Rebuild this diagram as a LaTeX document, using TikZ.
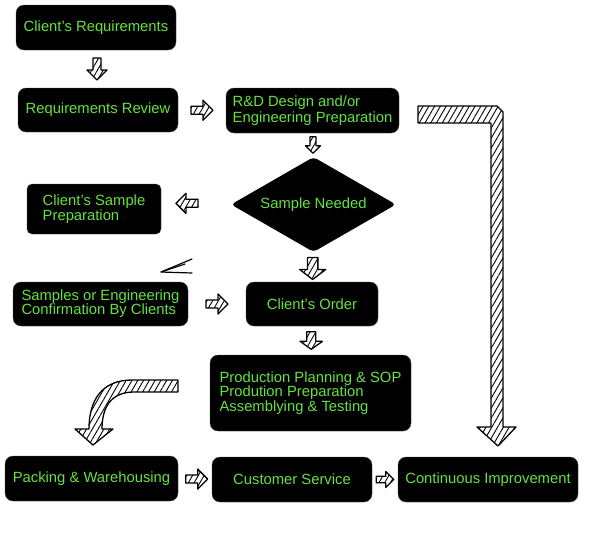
\documentclass[tikz,border=0pt]{standalone}
\usepackage{fontspec}
\setmainfont{Liberation Sans}
\usetikzlibrary{shapes.geometric,patterns.meta,calc}
\definecolor{grn}{RGB}{100,226,64}
\tikzset{
  box/.style={rectangle, rounded corners=8pt, fill=black, draw=black!70, text=grn,
    align=left, inner sep=2pt, font=\fontsize{14.8}{14}\selectfont},
  hatch/.style={draw=black, line width=1.3pt, line join=round,
    pattern={Lines[angle=60,distance=5pt,line width=0.9pt]}},
  blockarr/.pic={\path[hatch] (-11,-4) -- (1,-4) -- (1,-10) -- (11,0) -- (1,10) -- (1,4) -- (-11,4) -- cycle;},
}
\begin{document}
\begin{tikzpicture}[x=1pt,y=-1pt]
\path[use as bounding box] (0,0) rectangle (591,539);

\node[box, minimum width=160pt, minimum height=45pt] (creq) at (96,27.5) {Client's Requirements};
\node[box, minimum width=160pt, minimum height=44pt] (rrev) at (98,110) {Requirements Review};
\node[box, minimum width=173pt, minimum height=45pt, font=\fontsize{14.8}{15.5}\selectfont] (rnd) at (312.5,110.5) {R\&D Design and/or\\Engineering Preparation};
\node[diamond, aspect=1.74, fill=black, rounded corners=4pt, inner sep=0pt, minimum width=165pt, minimum height=95pt, text=grn, font=\fontsize{14.8}{14}\selectfont] (samp) at (313.5,204.5) {Sample Needed};
\node[box, rounded corners=5pt, minimum width=134pt, minimum height=50pt, font=\fontsize{14.8}{13.5}\selectfont] (csp) at (94,209) {Client's Sample\\Preparation};
\node[box, minimum width=175pt, minimum height=44pt] (scs) at (100.5,304) {Samples or Engineering\\Confirmation By Clients};
\node[box, minimum width=132pt, minimum height=44pt] (cord) at (312,304) {Client's Order};
\node[box, minimum width=201pt, minimum height=76pt, font=\fontsize{14.8}{13.7}\selectfont] (prod) at (310.5,393) {Production Planning \& SOP\\Prodution Preparation\\Assemblying \& Testing};
\node[box, minimum width=173pt, minimum height=45pt] (pack) at (91.5,478.5) {Packing \& Warehousing};
\node[box, minimum width=160pt, minimum height=45pt] (cs) at (292,479.5) {Customer Service};
\node[box, minimum width=180pt, minimum height=45pt] (ci) at (488,479.5) {Continuous Improvement};

% small block arrows between nodes
\pic[rotate=-90] at ($(creq.south)!0.5!(rrev.north)$) {blockarr};
\pic at ($(rrev.east)!0.5!(rnd.west)$) {blockarr};
\pic[rotate=-90, scale=0.75] at ($(rnd.south)!0.5!(samp.north)$) {blockarr};
\pic[rotate=180] at ($(samp.west)!0.63!(csp.east)+(0,-4)$) {blockarr};
\pic[rotate=-90, yscale=1.3] at ($(samp.south)!0.55!(cord.north)$) {blockarr};
\pic at ($(scs.east)!0.5!(cord.west)$) {blockarr};
\pic[rotate=-90, scale=0.8, yscale=1.4] at ($(cord.south)!0.5!(prod.north)$) {blockarr};
\pic at ($(pack.east)!0.55!(cs.west)$) {blockarr};
\pic[scale=0.8] at ($(cs.east)!0.5!(ci.west)$) {blockarr};

% thin open arrow
\coordinate (tt) at (161,272);
\draw[line width=1.2pt, line cap=round, line join=round] (192,259) -- (tt) -- (192,273);
\draw[line width=1.1pt, line cap=round] (tt) -- (185,264);

% large L-shaped arrow
\path[hatch] (418,106) -- (497,106) -- (503,112) -- (503,427) -- (516,427) -- (498,446)
  -- (477,427) -- (491,427) -- (491,123) -- (418,123) -- cycle;

% large curved arrow
\path[hatch] (178,380) -- (132,380) .. controls (102,380) and (89,400) .. (89,429)
  -- (75,429) -- (93,445) -- (113,429) -- (102,429)
  .. controls (102,406) and (112,392) .. (134,392) -- (178,392) -- cycle;
\end{tikzpicture}
\end{document}
